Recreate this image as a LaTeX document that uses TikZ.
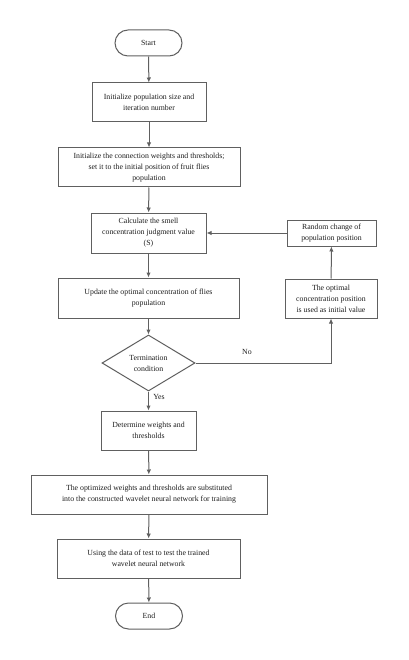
\documentclass[tikz,border=0pt]{standalone}
\usepackage{fontspec}
\setmainfont{Liberation Serif}
\usetikzlibrary{shapes.geometric,shapes.misc,arrows.meta}
\definecolor{linec}{HTML}{606060}
\definecolor{txtc}{HTML}{1E1E1E}
\begin{document}
\begin{tikzpicture}[x=1pt,y=-1pt,
  font=\fontsize{7.8}{11}\selectfont, text=txtc,
  box/.style={draw=linec, line width=1pt, rectangle, align=center, inner sep=0pt},
  term/.style={draw=linec, line width=1pt, rounded rectangle, minimum width=67pt, minimum height=26pt, inner sep=0pt},
  cond/.style={draw=linec, line width=1pt, diamond, aspect=1.66, minimum width=93pt, minimum height=56pt, inner sep=0pt, align=center},
  arr/.style={draw=linec, line width=1pt, -{Latex[length=5pt,width=4.5pt]}}]
\useasboundingbox (0,0) rectangle (408,660);
\fill[white] (0,0) rectangle (408,660);
\node[term] (start) at (148.5,43) {Start};
\node[box, minimum width=114pt, minimum height=39pt] (b1) at (149,102.5) {Initialize population size and\\iteration number};
\node[box, minimum width=182pt, minimum height=39pt] (b2) at (149,167.5) {Initialize the connection weights and thresholds;\\set it to the initial position of fruit flies\\population};
\node[box, minimum width=115pt, minimum height=40pt] (b3) at (148.5,233) {Calculate the smell\\concentration judgment value\\(S)};
\node[box, minimum width=181pt, minimum height=40pt] (b4) at (148.5,298) {Update the optimal concentration of flies\\population};
\node[cond] (dia) at (148.5,363) {Termination\\condition};
\node[box, minimum width=95pt, minimum height=39pt] (b5) at (148.5,430.5) {Determine weights and\\thresholds};
\node[box, minimum width=236pt, minimum height=39pt] (b6) at (149,494.5) {The optimized weights and thresholds are substituted\\into the constructed wavelet neural network for training};
\node[box, minimum width=183pt, minimum height=39pt] (b7) at (148.5,558.5) {Using the data of test to test the trained\\wavelet neural network};
\node[term] (end) at (149,616) {End};
\node[box, minimum width=89pt, minimum height=26pt] (rand) at (331.5,233) {Random change of\\population position};
\node[box, minimum width=92pt, minimum height=39pt] (opt) at (331,298.5) {The optimal\\concentration position\\is used as initial value};
\draw[arr] (start) -- (b1);
\draw[arr] (b1) -- (b2);
\draw[arr] (b2) -- (b3);
\draw[arr] (b3) -- (b4);
\draw[arr] (b4) -- (dia);
\draw[arr] (dia) -- node[right, pos=0.3, xshift=1pt] (yes) {Yes} (b5);
\draw[arr] (b5) -- (b6);
\draw[arr] (b6) -- (b7);
\draw[arr] (b7) -- (end);
\draw[arr] (dia.east) -| (opt.south);
\node (no) at (247,352) {No};
\draw[arr] (opt) -- (rand);
\draw[arr] (rand) -- (b3);
\end{tikzpicture}
\end{document}
